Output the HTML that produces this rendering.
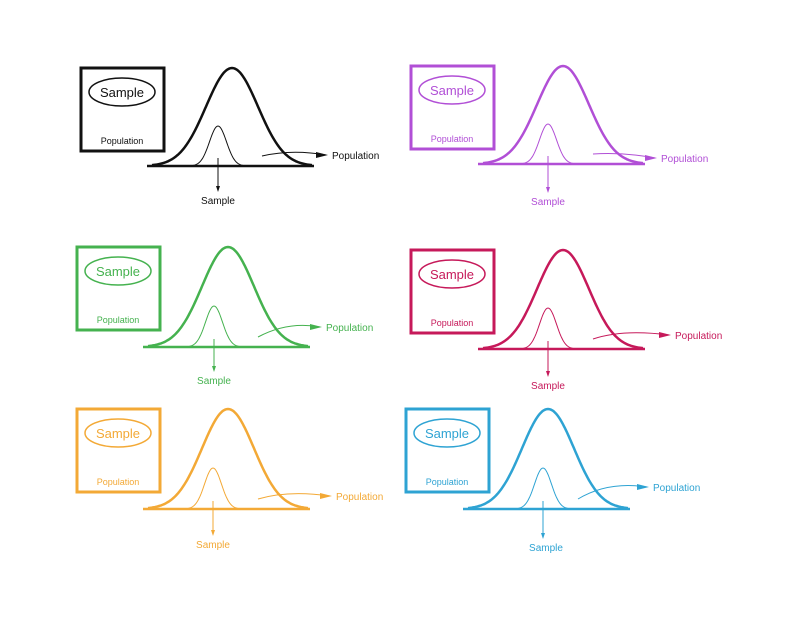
<!DOCTYPE html>
<html><head><meta charset="utf-8">
<style>
html,body{margin:0;padding:0;background:#fff;width:800px;height:620px;overflow:hidden}
svg{display:block}
text{font-family:"Liberation Sans",sans-serif}
</style></head>
<body>
<svg id="fig" width="800" height="620" viewBox="0 0 800 620"></svg>
<script>
const panelNames = ['black','purple','green','crimson','orange','blue'];
const panelColors = ['#111111','#b14fd6','#45b24f','#c6195a','#f3a936','#2ea3d3'];
const popPeakX = [232,563,228,563,228,548];
const popPeakY = [68,66,247,250,409,409];
const baseY = [166,164,347,349,509,509];
const samplePeakX = [218,548,214,548,213,543];
const samplePeakY = [126,124,306,308,468,468];
const boxX = [81,411,77,411,77,406];
const boxY = [68,66,247,250,409,409];
const popLabelX = [332,661,326,675,336,653];
const popLabelY = [159,162,331,339,500,491];
const sampleLabelY = [204,205,384,389,548,551];
const sampleLabelX = [218,548,214,548,213,546];

const NS='http://www.w3.org/2000/svg';
const svg=document.getElementById('fig');
function mk(tag,attrs,parent){const e=document.createElementNS(NS,tag);for(const k in attrs)e.setAttribute(k,attrs[k]);(parent||svg).appendChild(e);return e;}
function gauss(cx,peakY,base,sigma,half){
  let d='';
  for(let x=-half;x<=half;x+=1){
    const y=base-(base-peakY)*Math.exp(-(x*x)/(2*sigma*sigma));
    d+=(x===-half?'M':'L')+(cx+x).toFixed(1)+','+y.toFixed(1);
  }
  return d;
}
panelNames.forEach((nm,i)=>{
  const c=panelColors[i];
  const g=mk('g',{});
  
  
  const box=mk('rect',{x:boxX[i],y:boxY[i],width:83,height:83,fill:'none',stroke:c,'stroke-width':3},g);
  
  
  const el=mk('ellipse',{cx:boxX[i]+41,cy:boxY[i]+24,rx:33,ry:14,fill:'none',stroke:c,'stroke-width':1.5},g);
  
  
  const t1=mk('text',{x:boxX[i]+41,y:boxY[i]+29,'text-anchor':'middle','font-size':13,fill:c},g);
  t1.textContent='Sample';
  
  
  const t2=mk('text',{x:boxX[i]+41,y:boxY[i]+76,'text-anchor':'middle','font-size':9,fill:c},g);
  t2.textContent='Population';
  
  
  const cx=popPeakX[i], b=baseY[i];
  const bl=mk('line',{x1:cx-85,y1:b,x2:cx+82,y2:b,stroke:c,'stroke-width':2.5},g);
  
  
  const pc=mk('path',{d:gauss(cx,popPeakY[i],b,26,80),fill:'none',stroke:c,'stroke-width':2.5},g);
  
  
  const sc=mk('path',{d:gauss(samplePeakX[i],samplePeakY[i],b,8.5,27),fill:'none',stroke:c,'stroke-width':1},g);
  
  
  const sx=samplePeakX[i];
  const sa=mk('path',{d:`M${sx},${b-8} L${sx},${sampleLabelY[i]-14}`,fill:'none',stroke:c,'stroke-width':1},g);
  
  
  const ah=mk('path',{d:`M${sx-2},${sampleLabelY[i]-18} L${sx},${sampleLabelY[i]-12} L${sx+2},${sampleLabelY[i]-18}Z`,fill:c},g);
  
  
  const st=mk('text',{x:sampleLabelX[i],y:sampleLabelY[i],'text-anchor':'middle','font-size':10,fill:c},g);
  st.textContent='Sample';
  
  
  const px=popLabelX[i], py=popLabelY[i]-4;
  const pa=mk('path',{d:`M${cx+30},${b-10} Q${cx+60},${py-6} ${px-6},${py}`,fill:'none',stroke:c,'stroke-width':1},g);
  
  
  const ph=mk('path',{d:`M${px-16},${py-3} L${px-4},${py} L${px-16},${py+3}Z`,fill:c},g);
  
  
  const pt=mk('text',{x:px,y:popLabelY[i],'font-size':10,fill:c},g);
  pt.textContent='Population';
  
  
});
</script>
</body></html>
